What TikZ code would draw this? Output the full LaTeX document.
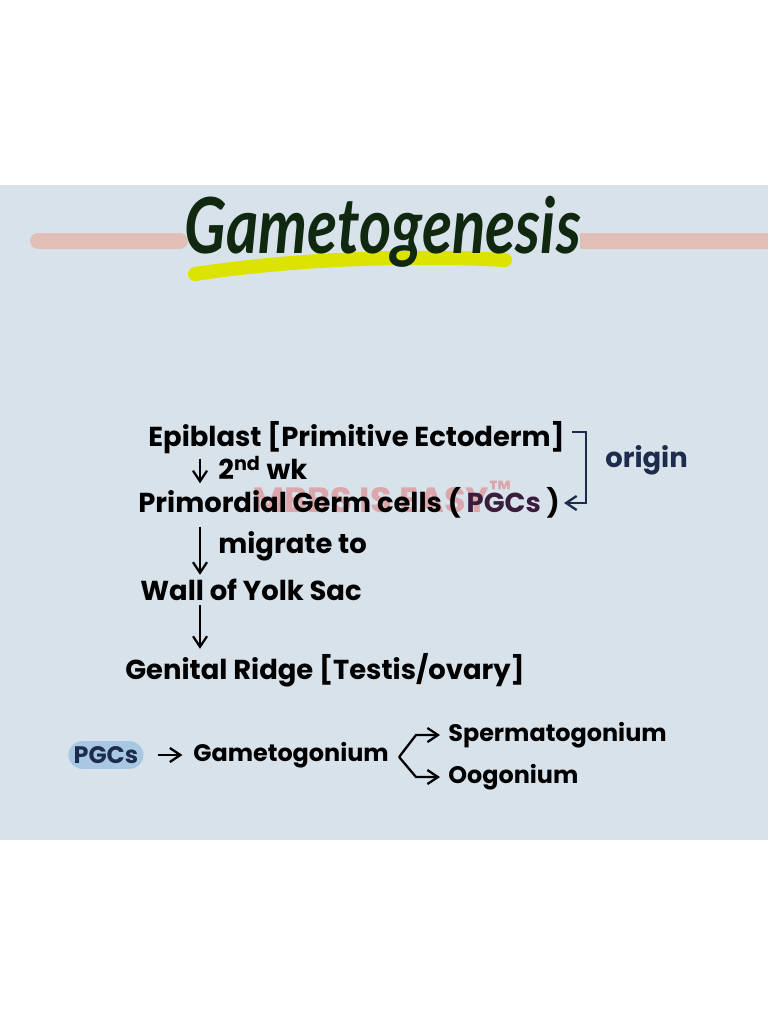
\documentclass[tikz,border=0pt]{standalone}
\usepackage{fontspec}
\setmainfont{Poppins}
\newfontfamily\titlefont{Lato}
\usetikzlibrary{arrows.meta,calc}
\definecolor{panel}{HTML}{D8E2EA}
\definecolor{barpink}{HTML}{E2BFB6}
\definecolor{titlegreen}{HTML}{10280F}
\definecolor{marker}{HTML}{DDE300}
\definecolor{navy}{HTML}{1D2B4D}
\definecolor{plum}{HTML}{3A1C3C}
\definecolor{pgcblue}{HTML}{A8C7E2}
\definecolor{wmred}{HTML}{E05050}
\begin{document}
\begin{tikzpicture}[x=0.02cm,y=-0.02cm,
  txt/.style={anchor=west, inner sep=0pt, font=\bfseries\fontsize{15.6}{18}\selectfont},
  smalltxt/.style={txt, font=\bfseries\fontsize{13.6}{16}\selectfont},
  flow/.style={->, >={Straight Barb[length=6pt,width=8pt]}, line width=1.3pt},
  bracket/.style={flow, navy}]
\useasboundingbox (0,0) rectangle (768,1024);
\fill[white] (0,0) rectangle (768,1024);
\fill[panel] (0,185) rectangle (768,840);
% title with bars and marker
\draw[barpink, line width=9pt, line cap=round] (38,241) -- (180,241);
\draw[barpink, line width=9pt] (580,241) -- (768,241);
\draw[marker, line width=8pt, line cap=round] (195,274) .. controls (300,258) and (420,255) .. (505,260);
\node[font=\titlefont\bfseries\itshape\fontsize{44}{50}\selectfont, text=titlegreen] (title) at (383,232) {\scalebox{0.8}[1]{Gametogenesis}};
% watermark
\node[text=wmred, opacity=0.4, font=\bfseries\fontsize{20}{22}\selectfont] (wm) at (382,497) {MBBS IS EASY\textsuperscript{™}};
% origin of PGCs
\node[txt] (epi) at (148,438) {Epiblast [Primitive Ectoderm]};
\node[txt] (wk) at (218,468) {2\textsuperscript{nd} wk};
\node[txt] (pgc) at (138,503) {Primordial Germ cells ( \textcolor{plum}{PGCs} )};
\node[txt, text=navy] (origin) at (605,460) {origin};
\node[txt] (mig) at (218,546) {migrate to};
\node[txt] (wall) at (140,590) {Wall of Yolk Sac};
\node[txt] (gen) at (125,670) {Genital Ridge [Testis/ovary]};
\draw[flow] ($(epi.south -| 200,0)+(0,4)$) -- ($(pgc.north -| 200,0)+(0,-4)$);
\draw[flow] ($(pgc.south -| 200,0)+(0,8)$) -- ($(wall.north -| 200,0)+(0,-4)$);
\draw[flow] ($(wall.south -| 200,0)+(0,4)$) -- ($(gen.north -| 200,0)+(0,-4)$);
\draw[bracket] ($(epi.east)+(7,-6)$) -- ++(14,0) |- ($(pgc.east)+(4,0)$);
% PGCs to gametogonium
\node[smalltxt, fill=pgcblue, rounded corners=8pt, inner sep=3pt, text=navy] (pgcs) at (68,755) {PGCs};
\node[smalltxt] (gamo) at (193,755) {Gametogonium};
\node[smalltxt] (sperm) at (448,735) {Spermatogonium};
\node[smalltxt] (oogo) at (448,777) {Oogonium};
\draw[flow, shorten <=8pt, shorten >=6pt] (pgcs) -- (gamo);
\coordinate (fork) at ($(gamo.east)+(10,2)$);
\draw[flow] (fork) -- ($(sperm.west)+(-32,0)$) -- ($(sperm.west)+(-8,0)$);
\draw[flow] (fork) -- ($(oogo.west)+(-32,0)$) -- ($(oogo.west)+(-8,0)$);
\end{tikzpicture}
\end{document}
